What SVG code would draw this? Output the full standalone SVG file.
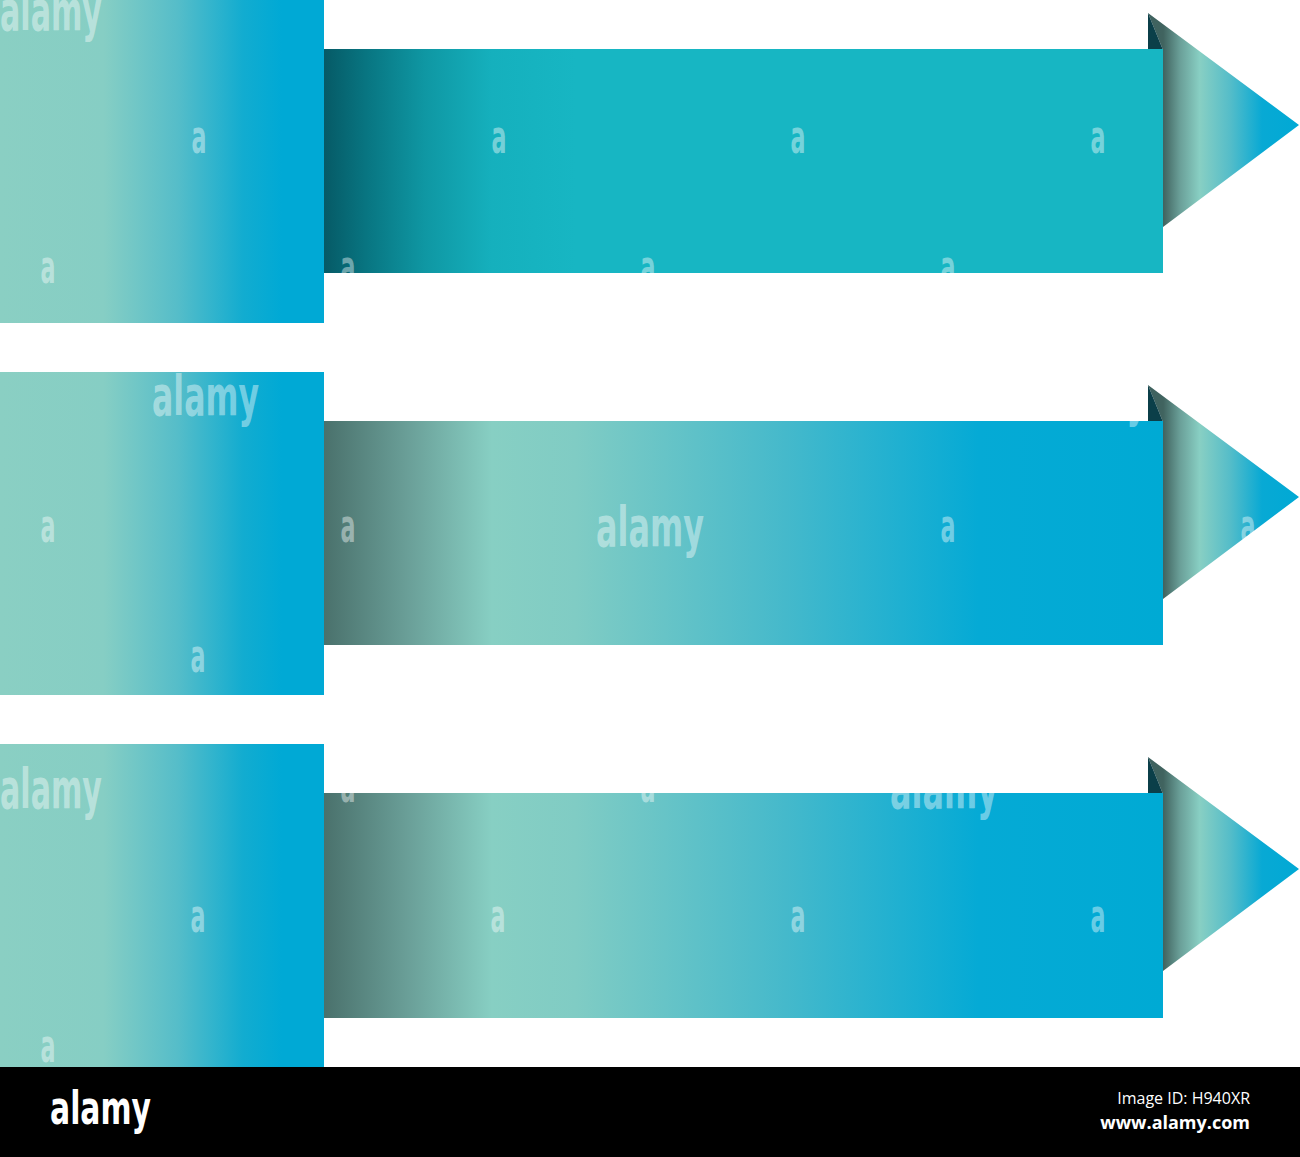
<svg xmlns="http://www.w3.org/2000/svg" width="1300" height="1157" viewBox="0 0 1300 1157">
  <defs>
    <linearGradient id="gSquare" x1="0" y1="0" x2="1" y2="0">
      <stop offset="0" stop-color="#8acfc3"/>
      <stop offset="0.32" stop-color="#86cec4"/>
      <stop offset="0.55" stop-color="#55bdc9"/>
      <stop offset="0.75" stop-color="#12acd0"/>
      <stop offset="0.87" stop-color="#00a9d5"/>
      <stop offset="1" stop-color="#00a9d5"/>
    </linearGradient>
    <linearGradient id="gBarTeal" x1="0" y1="0" x2="1" y2="0">
      <stop offset="0" stop-color="#065a66"/>
      <stop offset="0.05" stop-color="#087581"/>
      <stop offset="0.12" stop-color="#0f97a3"/>
      <stop offset="0.2" stop-color="#15b0bd"/>
      <stop offset="0.3" stop-color="#17b6c3"/>
      <stop offset="1" stop-color="#17b6c3"/>
    </linearGradient>
    <linearGradient id="gBarBlue" x1="0" y1="0" x2="1" y2="0">
      <stop offset="0" stop-color="#4a716c"/>
      <stop offset="0.1" stop-color="#6a9f98"/>
      <stop offset="0.2" stop-color="#87cfc3"/>
      <stop offset="0.3" stop-color="#80ccc4"/>
      <stop offset="0.55" stop-color="#45b9cb"/>
      <stop offset="0.78" stop-color="#05aad5"/>
      <stop offset="1" stop-color="#00aad4"/>
    </linearGradient>
    <linearGradient id="gHead" gradientUnits="userSpaceOnUse" x1="1148" y1="0" x2="1300" y2="0">
      <stop offset="0" stop-color="#3f625f"/>
      <stop offset="0.1" stop-color="#40635f"/>
      <stop offset="0.21" stop-color="#6a9f98"/>
      <stop offset="0.34" stop-color="#88cfc3"/>
      <stop offset="0.54" stop-color="#55bdc9"/>
      <stop offset="0.75" stop-color="#08a9d4"/>
      <stop offset="1" stop-color="#00a9d5"/>
    </linearGradient>
    <polygon id="head" points="1148,13 1299,125 1163,227 1163,50"/>
    <polygon id="fold" points="1148,13 1163,50 1148,50"/>
  </defs>
  <style>
    .fold { fill: #0b3f49; }
    .wm { fill: #ffffff; fill-opacity: 0.42; font-family: "DejaVu Sans", "Liberation Sans", sans-serif; font-weight: bold; }
    .wmA { font-size: 46px; text-anchor: middle; }
    .wmW { font-size: 55px; }
  </style>

  <rect x="0" y="0" width="1300" height="1157" fill="#ffffff"/>

  <g id="row1">
    <g id="row1-square"><rect x="0" y="0" width="324" height="323" fill="url(#gSquare)"/></g>
    <g id="row1-arrow">
      <use href="#head" fill="url(#gHead)"/>
      <use href="#fold" class="fold"/>
      <rect x="324" y="49" width="839" height="224" fill="url(#gBarTeal)"/>
    </g>
  </g>

  <g id="row2">
    <g id="row2-square"><rect x="0" y="372" width="324" height="323" fill="url(#gSquare)"/></g>
    <g id="row2-arrow" transform="translate(0,372)">
      <use href="#head" fill="url(#gHead)"/>
      <use href="#fold" class="fold"/>
      <rect x="324" y="49" width="839" height="224" fill="url(#gBarBlue)"/>
    </g>
  </g>

  <g id="row3">
    <g id="row3-square"><rect x="0" y="744" width="324" height="323" fill="url(#gSquare)"/></g>
    <g id="row3-arrow" transform="translate(0,744)">
      <use href="#head" fill="url(#gHead)"/>
      <use href="#fold" class="fold"/>
      <rect x="324" y="49" width="839" height="225" fill="url(#gBarBlue)"/>
    </g>
  </g>

  <g id="connectors"/>

  <g id="watermark" class="wm">
    <text class="wmW" x="0" y="30" textLength="102" lengthAdjust="spacingAndGlyphs">alamy</text>
    <text class="wmA" x="199" y="153" textLength="15" lengthAdjust="spacingAndGlyphs">a</text>
    <text class="wmA" x="499" y="153" textLength="15" lengthAdjust="spacingAndGlyphs">a</text>
    <text class="wmA" x="798" y="153" textLength="15" lengthAdjust="spacingAndGlyphs">a</text>
    <text class="wmA" x="1098" y="153" textLength="15" lengthAdjust="spacingAndGlyphs">a</text>
    <text class="wmA" x="48" y="283" textLength="15" lengthAdjust="spacingAndGlyphs">a</text>
    <text class="wmA" x="348" y="283" textLength="15" lengthAdjust="spacingAndGlyphs">a</text>
    <text class="wmA" x="648" y="283" textLength="15" lengthAdjust="spacingAndGlyphs">a</text>
    <text class="wmA" x="948" y="283" textLength="15" lengthAdjust="spacingAndGlyphs">a</text>

    <text class="wmW" x="152" y="415" textLength="107" lengthAdjust="spacingAndGlyphs">alamy</text>
    <text class="wmW" x="1040" y="415" textLength="107" lengthAdjust="spacingAndGlyphs">alamy</text>
    <text class="wmA" x="48" y="542" textLength="15" lengthAdjust="spacingAndGlyphs">a</text>
    <text class="wmA" x="348" y="542" textLength="15" lengthAdjust="spacingAndGlyphs">a</text>
    <text class="wmW" x="596" y="546" textLength="108" lengthAdjust="spacingAndGlyphs">alamy</text>
    <text class="wmA" x="948" y="542" textLength="15" lengthAdjust="spacingAndGlyphs">a</text>
    <text class="wmA" x="1248" y="542" textLength="15" lengthAdjust="spacingAndGlyphs">a</text>
    <text class="wmA" x="198" y="672" textLength="15" lengthAdjust="spacingAndGlyphs">a</text>

    <text class="wmW" x="0" y="808" textLength="102" lengthAdjust="spacingAndGlyphs">alamy</text>
    <text class="wmA" x="348" y="802" textLength="15" lengthAdjust="spacingAndGlyphs">a</text>
    <text class="wmA" x="648" y="802" textLength="15" lengthAdjust="spacingAndGlyphs">a</text>
    <text class="wmW" x="890" y="808" textLength="108" lengthAdjust="spacingAndGlyphs">alamy</text>
    <text class="wmA" x="198" y="932" textLength="15" lengthAdjust="spacingAndGlyphs">a</text>
    <text class="wmA" x="498" y="932" textLength="15" lengthAdjust="spacingAndGlyphs">a</text>
    <text class="wmA" x="798" y="932" textLength="15" lengthAdjust="spacingAndGlyphs">a</text>
    <text class="wmA" x="1098" y="932" textLength="15" lengthAdjust="spacingAndGlyphs">a</text>
    <text class="wmA" x="48" y="1062" textLength="15" lengthAdjust="spacingAndGlyphs">a</text>
  </g>

  <g id="banner">
    <rect x="0" y="1067" width="1300" height="90" fill="#000000"/>
    <text x="50" y="1124" font-family="DejaVu Sans, Liberation Sans, sans-serif" font-weight="bold" font-size="46" fill="#ffffff" textLength="101" lengthAdjust="spacingAndGlyphs">alamy</text>
    <text x="1250" y="1104" font-family="Open Sans, Noto Sans, sans-serif" font-size="16" fill="#ffffff" text-anchor="end">Image ID: H940XR</text>
    <text x="1250" y="1129" font-family="Open Sans, Noto Sans, sans-serif" font-weight="bold" font-size="18" fill="#ffffff" text-anchor="end">www.alamy.com</text>
  </g>
</svg>
